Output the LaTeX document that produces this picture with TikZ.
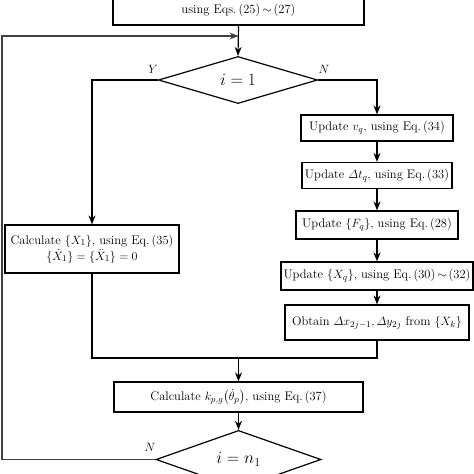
\documentclass[tikz,border=0pt]{standalone}
\usepackage{amsmath}
\usetikzlibrary{shapes.geometric,arrows.meta}
\tikzset{
  box/.style={draw, line width=1.2pt, inner sep=0pt, align=center, font=\fontsize{12.5}{15}\selectfont},
  dia/.style={diamond, draw, line width=1.2pt, inner sep=0pt, font=\fontsize{18}{20}\selectfont},
  arr/.style={-{Stealth[length=9pt,width=7pt]}, line width=1.2pt},
  ln/.style={line width=1.2pt},
  lab/.style={font=\fontsize{13}{15}\selectfont, inner sep=0pt}
}
\begin{document}
\begin{tikzpicture}[x=1pt,y=-1pt]
\useasboundingbox (0,0) rectangle (474,474);
\node[box, minimum width=251pt, minimum height=50pt] (top) at (238.5,0)
  {Calculate $\{X\},\{\dot X\},\{\ddot X\}$ of pulse integral $g(t)$\\[4pt] using Eqs.\,(25)$\,\sim\,$(27)};
\node[dia, minimum width=159pt, minimum height=45pt] (d1) at (238,80) {$i=1$};
\node[box, minimum width=174pt, minimum height=48pt] (calc) at (92,249)
  {Calculate $\{X_1\}$, using Eq.\,(35)\\[1pt] $\{\dot X_1\}=\{\ddot X_1\}=0$};
\node[box, minimum width=152pt, minimum height=26pt] (b1) at (377,128) {Update $v_q$, using Eq.\,(34)};
\node[box, minimum width=150pt, minimum height=26pt] (b2) at (377,175.5) {Update $\varDelta t_q$, using Eq.\,(33)};
\node[box, minimum width=162pt, minimum height=28pt] (b3) at (377,225) {Update $\{F_q\}$, using Eq.\,(28)};
\node[box, minimum width=192pt, minimum height=28pt] (b4) at (377,276) {Update $\{X_q\}$, using Eq.\,(30)$\,\sim\,$(32)};
\node[box, minimum width=184pt, minimum height=35pt] (b5) at (377,322.5) {Obtain $\varDelta x_{2j-1},\varDelta y_{2j}$ from $\{X_k\}$};
\node[box, minimum width=249pt, minimum height=30pt] (ck) at (238.5,397) {Calculate $k_{p,g}\big(\dot\theta_p\big)$, using Eq.\,(37)};
\node[dia, minimum width=165pt, minimum height=46pt] (d2) at (238.5,459.5) {$i=n_1$};
\node[lab] (ly) at (153,69) {$Y$};
\node[lab] (ln1) at (324,69) {$N$};
\node[lab] (ln2) at (150,447) {$N$};
\coordinate (yl) at (92,80);
\coordinate (nr) at (377,80);
\coordinate (jl) at (92,358);
\coordinate (jr) at (377,358);
\coordinate (jm) at (238.5,358);
\coordinate (lb) at (2,459.5);
\coordinate (lt) at (2,36);
\coordinate (lm) at (238.5,36);
\draw[arr] (top.south) -- (d1.north);
\draw[arr] (d1.west) -- (yl) -- (calc.north);
\draw[arr] (d1.east) -- (nr) -- (b1.north);
\draw[arr] (b1) -- (b2);
\draw[arr] (b2) -- (b3);
\draw[arr] (b3) -- (b4);
\draw[arr] (b4) -- (b5);
\draw[ln] (calc.south) -- (jl) -- (jr) -- (b5.south);
\draw[arr] (jm) -- (ck.north);
\draw[arr] (ck.south) -- (d2.north);
\draw[arr, black!75] (d2.west) -- (lb) -- (lt) -- (lm);
\end{tikzpicture}
\end{document}
